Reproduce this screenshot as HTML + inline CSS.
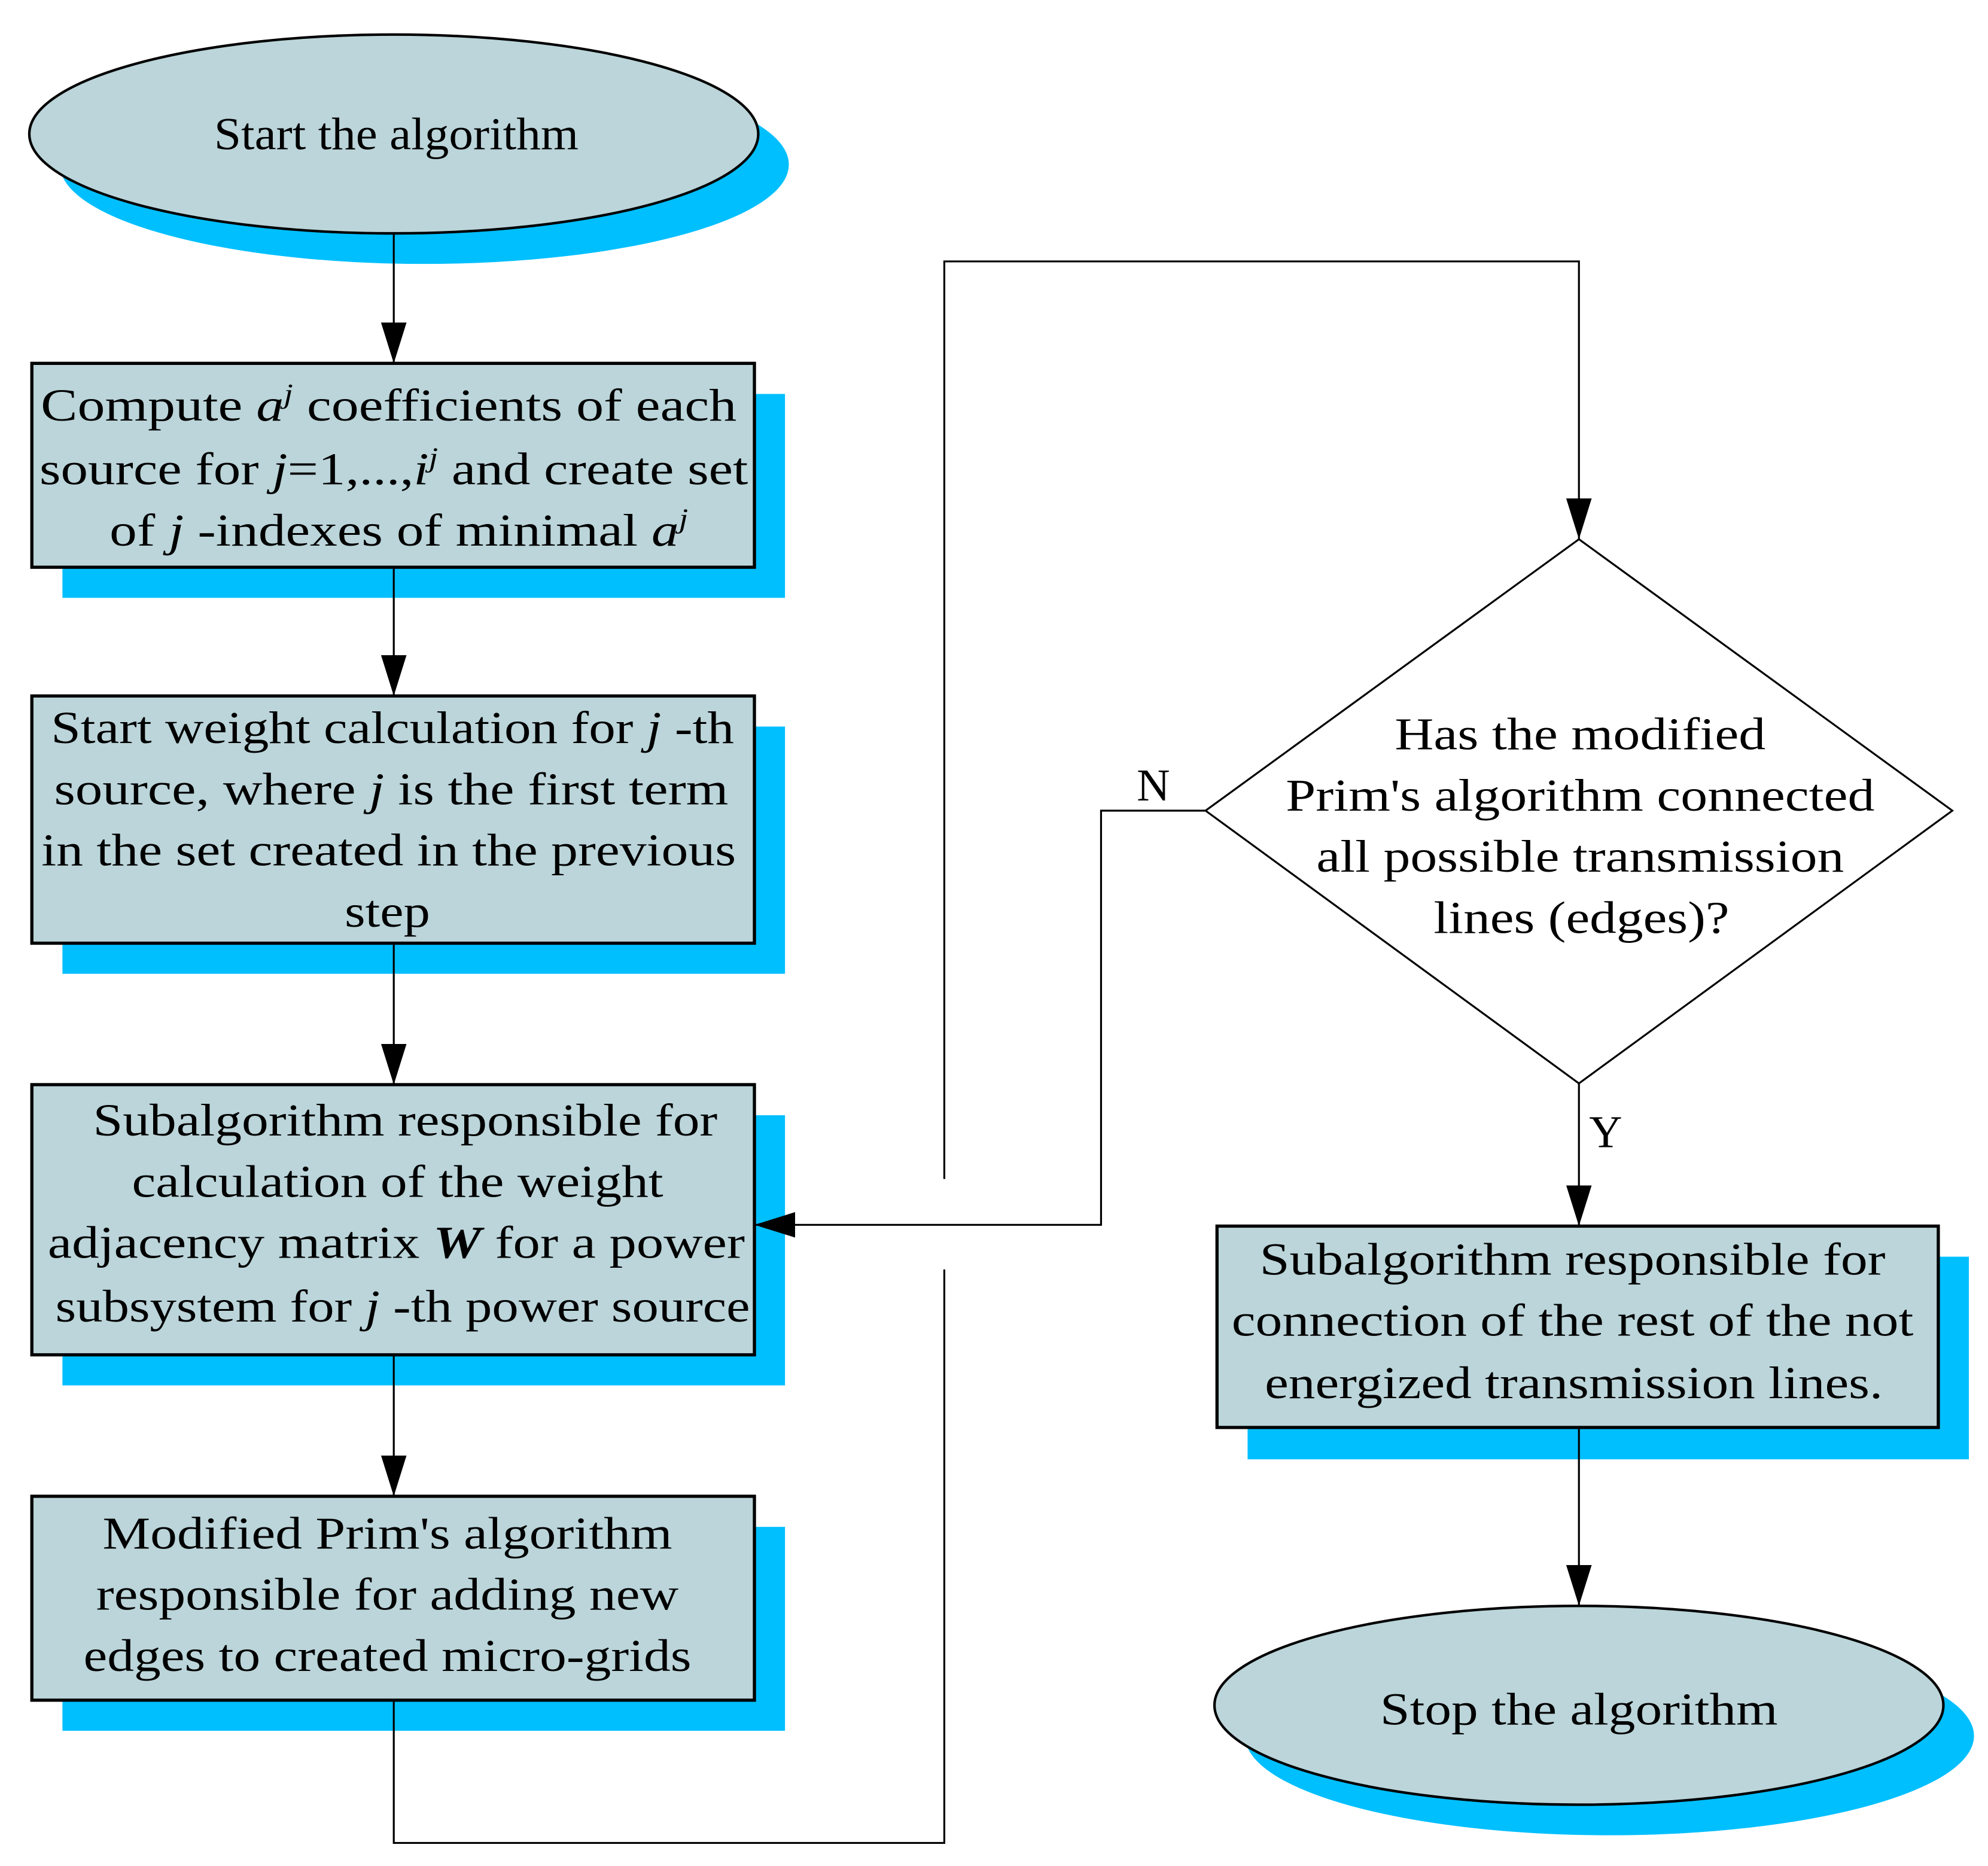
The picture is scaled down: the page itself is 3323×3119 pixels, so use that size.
<!DOCTYPE html>
<html><head><meta charset="utf-8"><style>
html,body{margin:0;padding:0;background:#fff;}
svg{display:block;}
text{font-family:"Liberation Serif",serif;font-size:36px;fill:#000;}
</style></head><body>
<svg width="3323" height="3119" viewBox="0 0 1560 1464" xmlns="http://www.w3.org/2000/svg">
<defs><marker id="a" markerWidth="32" markerHeight="20" refX="32" refY="10" orient="auto" markerUnits="userSpaceOnUse"><path d="M0,0 L32,10 L0,20 z" fill="#000"/></marker></defs>
<g fill="#00BFFF">
<ellipse cx="333" cy="129" rx="286" ry="78"/>
<rect x="49" y="309" width="567" height="160"/>
<rect x="49" y="570" width="567" height="194"/>
<rect x="49" y="875" width="567" height="212"/>
<rect x="49" y="1198" width="567" height="160"/>
<rect x="979" y="986" width="566" height="159"/>
<ellipse cx="1263" cy="1362" rx="286" ry="78"/>
</g>
<g fill="#BBD5DA" stroke="#000" stroke-width="2.5">
<ellipse cx="309" cy="105" rx="286" ry="78" stroke-width="2"/>
<rect x="25" y="285" width="567" height="160"/>
<rect x="25" y="546" width="567" height="194"/>
<rect x="25" y="851" width="567" height="212"/>
<rect x="25" y="1174" width="567" height="160"/>
<rect x="955" y="962" width="566" height="158"/>
<ellipse cx="1239" cy="1338" rx="286" ry="78" stroke-width="2"/>
</g>
<polygon points="1239,423 1532,636 1239,850 946,636" fill="#fff" stroke="#000" stroke-width="1.5"/>
<g stroke="#000" stroke-width="1.5" fill="none">
<line x1="309" y1="183" x2="309" y2="285" marker-end="url(#a)"/>
<line x1="309" y1="445" x2="309" y2="546" marker-end="url(#a)"/>
<line x1="309" y1="740" x2="309" y2="851" marker-end="url(#a)"/>
<line x1="309" y1="1063" x2="309" y2="1174" marker-end="url(#a)"/>
<polyline points="309,1334 309,1446 741,1446 741,996"/>
<polyline points="741,925 741,205 1239,205 1239,423" marker-end="url(#a)"/>
<polyline points="946,636 864,636 864,961 592,961" marker-end="url(#a)"/>
<line x1="1239" y1="850" x2="1239" y2="962" marker-end="url(#a)"/>
<line x1="1239" y1="1120" x2="1239" y2="1260" marker-end="url(#a)"/>
</g>
<text x="311" y="117" text-anchor="middle" textLength="286" lengthAdjust="spacingAndGlyphs">Start the algorithm</text>
<text x="305" y="330" text-anchor="middle" textLength="546" lengthAdjust="spacingAndGlyphs">Compute <tspan font-style="italic">a</tspan><tspan font-style="italic" font-size="22" dy="-14">j</tspan><tspan dy="14"> coefficients of each</tspan></text>
<text x="309" y="380" text-anchor="middle" textLength="556" lengthAdjust="spacingAndGlyphs">source for <tspan font-style="italic">j</tspan>=1,...,<tspan font-style="italic">i</tspan><tspan font-style="italic" font-size="22" dy="-14">j</tspan><tspan dy="14"> and create set</tspan></text>
<text x="313" y="428" text-anchor="middle" textLength="454" lengthAdjust="spacingAndGlyphs">of <tspan font-style="italic">j</tspan> -indexes of minimal <tspan font-style="italic">a</tspan><tspan font-style="italic" font-size="22" dy="-14">j</tspan></text>
<text x="308" y="583" text-anchor="middle" textLength="536" lengthAdjust="spacingAndGlyphs">Start weight calculation for <tspan font-style="italic">j</tspan> -th</text>
<text x="307" y="631" text-anchor="middle" textLength="529" lengthAdjust="spacingAndGlyphs">source, where <tspan font-style="italic">j</tspan> is the first term</text>
<text x="305" y="679" text-anchor="middle" textLength="545" lengthAdjust="spacingAndGlyphs">in the set created in the previous</text>
<text x="304" y="727" text-anchor="middle" textLength="67" lengthAdjust="spacingAndGlyphs">step</text>
<text x="318" y="891" text-anchor="middle" textLength="490" lengthAdjust="spacingAndGlyphs">Subalgorithm responsible for</text>
<text x="312" y="939" text-anchor="middle" textLength="417" lengthAdjust="spacingAndGlyphs">calculation of the weight</text>
<text x="311" y="987" text-anchor="middle" textLength="547" lengthAdjust="spacingAndGlyphs">adjacency matrix <tspan font-style="italic" font-weight="bold">W</tspan> for a power</text>
<text x="316" y="1037" text-anchor="middle" textLength="545" lengthAdjust="spacingAndGlyphs">subsystem for <tspan font-style="italic">j</tspan> -th power source</text>
<text x="304" y="1215" text-anchor="middle" textLength="447" lengthAdjust="spacingAndGlyphs">Modified Prim's algorithm</text>
<text x="304" y="1263" text-anchor="middle" textLength="457" lengthAdjust="spacingAndGlyphs">responsible for adding new</text>
<text x="304" y="1311" text-anchor="middle" textLength="477" lengthAdjust="spacingAndGlyphs">edges to created micro-grids</text>
<text x="1240" y="588" text-anchor="middle" textLength="291" lengthAdjust="spacingAndGlyphs">Has the modified</text>
<text x="1240" y="636" text-anchor="middle" textLength="462" lengthAdjust="spacingAndGlyphs">Prim's algorithm connected</text>
<text x="1240" y="684" text-anchor="middle" textLength="414" lengthAdjust="spacingAndGlyphs">all possible transmission</text>
<text x="1241" y="732" text-anchor="middle" textLength="232" lengthAdjust="spacingAndGlyphs">lines (edges)?</text>
<text x="905" y="628" text-anchor="middle">N</text>
<text x="1260" y="900" text-anchor="middle">Y</text>
<text x="1234" y="1000" text-anchor="middle" textLength="491" lengthAdjust="spacingAndGlyphs">Subalgorithm responsible for</text>
<text x="1234" y="1048" text-anchor="middle" textLength="535" lengthAdjust="spacingAndGlyphs">connection of the rest of the not</text>
<text x="1235" y="1097" text-anchor="middle" textLength="485" lengthAdjust="spacingAndGlyphs">energized transmission lines.</text>
<text x="1239" y="1353" text-anchor="middle" textLength="312" lengthAdjust="spacingAndGlyphs">Stop the algorithm</text>
</svg>
</body></html>
